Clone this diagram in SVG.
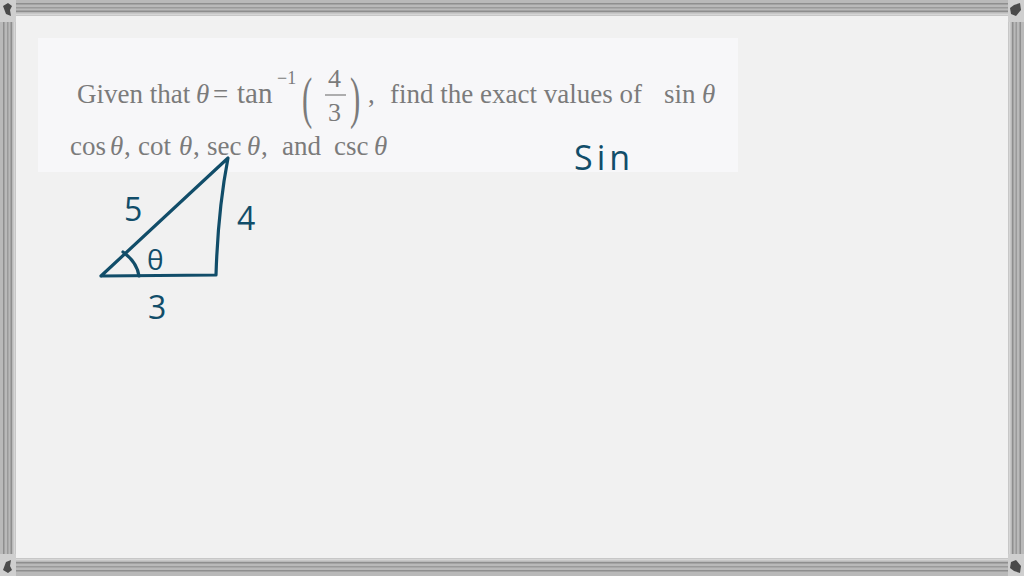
<svg xmlns="http://www.w3.org/2000/svg" width="1024" height="576" viewBox="0 0 1024 576">
<defs>
<pattern id="hstripe" width="8" height="16" patternUnits="userSpaceOnUse">
<rect width="8" height="16" fill="#b9b9b9"/>
<rect y="3" width="8" height="1.5" fill="#8e8e8e"/>
<rect y="7" width="8" height="1.5" fill="#9a9a9a"/>
<rect y="10.5" width="8" height="1.5" fill="#8e8e8e"/>
<rect y="13.5" width="8" height="2" fill="#d6d6d6"/>
</pattern>
<pattern id="vstripe" width="16" height="8" patternUnits="userSpaceOnUse">
<rect width="16" height="8" fill="#b9b9b9"/>
<rect x="3" width="1.5" height="8" fill="#8e8e8e"/>
<rect x="7" width="1.5" height="8" fill="#9a9a9a"/>
<rect x="10.5" width="1.5" height="8" fill="#8e8e8e"/>
<rect x="13.5" width="2" height="8" fill="#d6d6d6"/>
</pattern>
<pattern id="vstripeR" width="16" height="8" patternUnits="userSpaceOnUse" x="1008">
<rect width="16" height="8" fill="#b9b9b9"/>
<rect x="0.5" width="2" height="8" fill="#d6d6d6"/>
<rect x="4" width="1.5" height="8" fill="#8e8e8e"/>
<rect x="7.5" width="1.5" height="8" fill="#9a9a9a"/>
<rect x="11.5" width="1.5" height="8" fill="#8e8e8e"/>
</pattern>
<pattern id="hstripeB" width="8" height="18" patternUnits="userSpaceOnUse" y="558">
<rect width="8" height="18" fill="#b9b9b9"/>
<rect y="0.5" width="8" height="2" fill="#d6d6d6"/>
<rect y="4" width="8" height="1.5" fill="#8e8e8e"/>
<rect y="8" width="8" height="1.5" fill="#9a9a9a"/>
<rect y="12" width="8" height="1.5" fill="#8e8e8e"/>
</pattern>
<style>
.q{font-family:"Liberation Serif","Times New Roman",serif;font-size:27px;fill:#7b7b7b}
.it{font-style:italic}
.tn{font-size:29px}
.sup{font-size:18px}
.frac{font-size:26px}
.par{font-size:56px}
.h{font-family:"Open Sans","DejaVu Sans",sans-serif;fill:#114d69}
.ink{fill:none;stroke:#114d69;stroke-width:3.2;stroke-linecap:round;stroke-linejoin:round}
.blob{fill:#4a4a4a}
</style>
</defs>
<rect width="1024" height="576" fill="#f1f1f1"/>
<g id="frame">
<rect x="0" y="0" width="1024" height="16" fill="url(#hstripe)"/>
<rect x="0" y="558" width="1024" height="18" fill="url(#hstripeB)"/>
<rect x="0" y="0" width="16" height="576" fill="url(#vstripe)"/>
<rect x="1008" y="0" width="16" height="576" fill="url(#vstripeR)"/>
<rect x="0" y="0" width="16" height="22" fill="#cfcfcf"/>
<path class="blob" d="M3 6 L8 3 L12 6 L10 10 L11 16 L6 14 Z"/>
<rect x="1008" y="0" width="16" height="22" fill="#cfcfcf"/>
<path class="blob" d="M1010 8 L1014 5 L1020 3 L1021 10 L1016 16 L1011 14 Z"/>
<rect x="0" y="554" width="16" height="22" fill="#cfcfcf"/>
<path class="blob" d="M3 570 L8 573 L12 570 L10 566 L11 560 L6 562 Z"/>
<rect x="1008" y="554" width="16" height="22" fill="#cfcfcf"/>
<path class="blob" d="M1010 568 L1014 571 L1020 573 L1021 566 L1016 560 L1011 562 Z"/>
</g>
<g id="question">
<rect x="38" y="38" width="700" height="134" fill="#f7f7f9"/>
<text class="q" x="77" y="103">Given that</text>
<text class="q it" x="196" y="103">θ</text>
<text class="q" x="213" y="103">=</text>
<text class="q tn" x="237" y="103">tan</text>
<text class="q sup" x="277" y="84">−1</text>
<text class="q par" transform="translate(302 117) scale(0.55 1)">(</text>
<text class="q frac" x="328" y="87">4</text>
<line x1="325" y1="95" x2="346" y2="95" stroke="#7b7b7b" stroke-width="1.2"/>
<text class="q frac" x="328" y="121">3</text>
<text class="q par" transform="translate(350 117) scale(0.55 1)">)</text>
<text class="q" x="368" y="103">,</text>
<text class="q" x="390" y="103">find the exact values of</text>
<text class="q" x="664" y="103">sin</text>
<text class="q it" x="702" y="103">θ</text>
<text class="q" x="70" y="155">cos</text>
<text class="q it" x="110" y="155">θ</text>
<text class="q" x="124" y="155">,</text>
<text class="q" x="138" y="155">cot</text>
<text class="q it" x="179" y="155">θ</text>
<text class="q" x="193" y="155">,</text>
<text class="q" x="207" y="155">sec</text>
<text class="q it" x="247" y="155">θ</text>
<text class="q" x="261" y="155">,</text>
<text class="q" x="282" y="155">and</text>
<text class="q" x="334" y="155">csc</text>
<text class="q it" x="374" y="155">θ</text>
</g>
<g id="triangle">
<path class="ink" d="M101 276 L215 275 M101 276 L228 158 Q218 210 216 275"/>
<path class="ink" d="M123 252 Q137 262 139 276"/>
</g>
<g id="labels">
<text class="h" x="124" y="221" font-size="32">5</text>
<text class="h" x="237" y="230" font-size="32">4</text>
<text class="h" x="147" y="270" font-size="28">θ</text>
<text class="h" x="148" y="319" font-size="32">3</text>
<text class="h" x="574" y="170" font-size="34" letter-spacing="4">Sin</text>
</g>
</svg>
